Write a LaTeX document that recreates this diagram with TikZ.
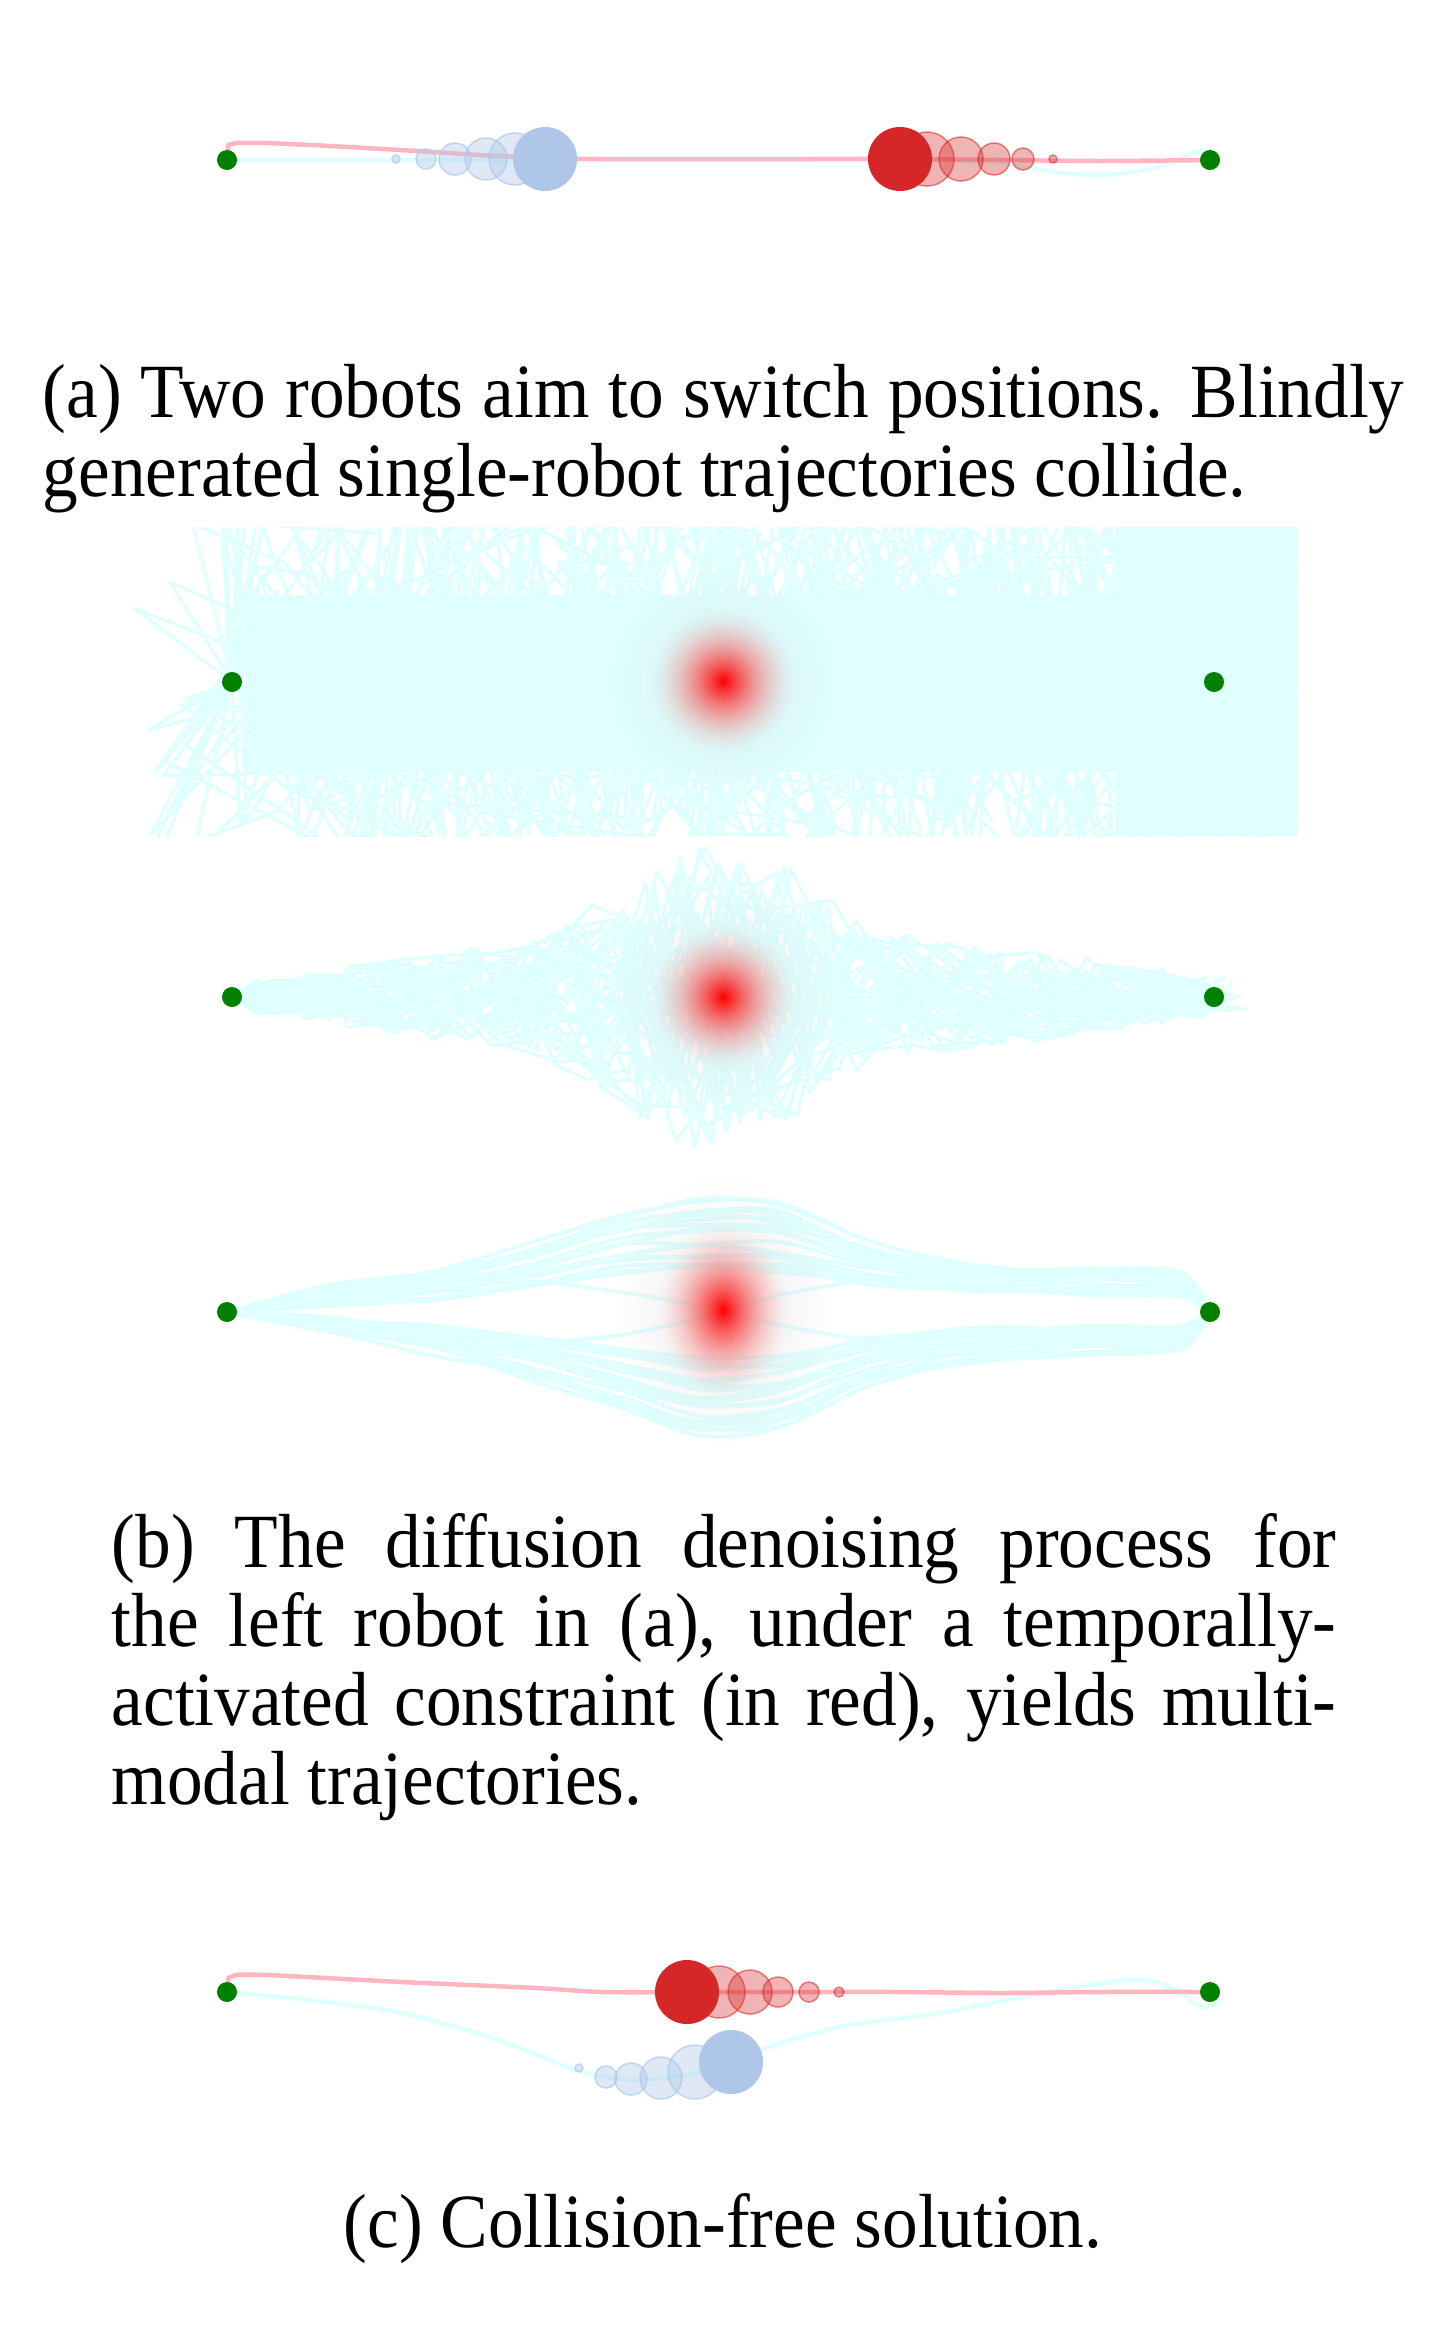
\documentclass[tikz,border=0pt]{standalone}
\usepackage{fontspec}
\setmainfont{Liberation Serif}[FakeStretch=0.93]
\usepackage{xcolor}
\usepackage{tikz}
\usetikzlibrary{fadings}
\definecolor{GoalGreen}{HTML}{008000}
\definecolor{RobotRed}{HTML}{D62728}
\definecolor{RobotBlue}{HTML}{AEC7E8}
\definecolor{TrailPink}{HTML}{FFB6C1}
\definecolor{TrailCyan}{HTML}{E0FFFF}
\tikzfading[name=blobfade, inner color=transparent!0, outer color=transparent!100]
% control abscissae and spread of the denoised trajectories
\def\ctrlx{{227,330,430,530,620,700,780,870,980,1090,1180,1210}}
\def\upprof{{0,25,45,75,108,122,118,78,52,48,42,0}}
\def\dnprof{{0,20,40,68,98,126,118,72,50,40,35,0}}

\begin{document}
\begin{tikzpicture}[x=0.01cm, y=-0.01cm,
          every node/.style={font=\fontsize{21.8pt}{22.5pt}\selectfont},
          goal/.style={circle, fill=GoalGreen, inner sep=0pt, minimum size=0.2cm},
          caption/.style={inner sep=0pt, align=justify},
          redpath/.style={TrailPink, line width=0.045cm, line join=round, line cap=round},
          bluepath/.style={TrailCyan, line width=0.045cm, line join=round, line cap=round},
          noisy/.style={TrailCyan, line width=0.034cm, line join=round},
          smoothtraj/.style={TrailCyan, line width=0.04cm},
          ghostred/.style={fill=RobotRed, draw=RobotRed, fill opacity=0.35, draw opacity=0.55, line width=0.015cm},
          ghostblue/.style={fill=RobotBlue, draw=RobotBlue, fill opacity=0.4, draw opacity=0.7, line width=0.015cm},
          halo/.style={inner color=gray!60, outer color=gray!40, path fading=blobfade, opacity=0.35},
          core/.style={inner color=red, outer color=red!25!white, path fading=blobfade}]
        \useasboundingbox (0,0) rectangle (1440,2348);
        \pgfmathsetseed{7}

        % (a) blind single-robot plans
        \draw[bluepath] plot[smooth] coordinates {(227,160) (400,160) (547,160) (750,160) (940,160)
          (1000,163) (1030,168) (1065,173) (1100,175) (1140,171) (1170,163) (1190,154) (1203,150) (1213,153)};
        \draw[redpath] plot[smooth] coordinates {(1210,160) (1100,161) (1000,160) (900,159) (800,159)
          (700,159) (600,159) (547,158) (480,155) (400,150) (330,146) (267,143) (236,143)}
          -- (228,145) -- (228,152);
        \foreach \cx/\r in {396/0.04, 426/0.10, 455/0.16, 486/0.21, 515/0.26}
          \filldraw[ghostblue] (\cx,159) circle[radius=\r cm];
        \fill[RobotBlue] (545,159) circle[radius=0.32cm];
        \foreach \cx/\r in {1053/0.04, 1023/0.11, 994/0.16, 961/0.22, 927/0.27}
          \filldraw[ghostred] (\cx,159) circle[radius=\r cm];
        \fill[RobotRed] (900,159) circle[radius=0.32cm];
        \node[goal] (startA) at (227,160) {};
        \node[goal] (goalA) at (1210,160) {};
        \node[caption, text width=13.61cm, anchor=base west] (capA) at (42,417)
        {(a) Two robots aim to switch positions. Blindly\linebreak
          generated single-robot trajectories collide.};

        % (b) denoising steps, noisiest first
        \begin{scope}
          \clip (0,527) rectangle (1298,836);
          \fill[TrailCyan] (245,595) rectangle (1298,772);
          \fill[TrailCyan] (1115,527) rectangle (1298,836);
          \foreach \k in {1,...,44}{
            \draw[noisy] (232,682) -- ({250+120*rand},{682+200*rand})
              \foreach \i in {2,...,23}{ -- ({232+\i*46+90*rand},{682+225*rand}) };
          }
        \end{scope}
        \shade[halo] (723,681) circle[radius=1.1cm];
        \shade[core] (723,681) circle[radius=0.7cm];
        \node[goal] (startB1) at (232,682) {};
        \node[goal] (goalB1) at (1214,682) {};

        \foreach \k in {1,...,45}{
          \draw[noisy] (232,997)
            \foreach \i in {1,...,23}{ -- ({232+\i*42+20*rand},
              {997+(10+55*sin(\i*7.34)+90*exp(-((\i*42-483)/110)*((\i*42-483)/110)))*rand}) }
            -- ({1214+40*rand},{997+20*rand});
        }
        \shade[halo] (723,997) circle[radius=1.1cm];
        \shade[core] (723,997) circle[radius=0.7cm];
        \node[goal] (startB2) at (232,997) {};
        \node[goal] (goalB2) at (1214,997) {};

        \foreach \k in {1,...,18}{
          \pgfmathsetmacro{\m}{0.3+0.7*rnd}
          \draw[smoothtraj] plot[smooth, variable=\t, samples at={0,...,11}]
            ({\ctrlx[\t]},{1312-\m*\upprof[\t]+(\t>0)*(\t<11)*5*rand});
        }
        \foreach \k in {1,...,18}{
          \pgfmathsetmacro{\m}{0.3+0.7*rnd}
          \draw[smoothtraj] plot[smooth, variable=\t, samples at={0,...,11}]
            ({\ctrlx[\t]},{1312+\m*\dnprof[\t]+(\t>0)*(\t<11)*5*rand});
        }
        \draw[smoothtraj] plot[smooth] coordinates {(227,1312) (330,1300) (430,1290) (530,1282)
          (620,1292) (700,1306) (780,1325) (870,1340) (980,1345) (1090,1345) (1180,1340) (1210,1312)};
        \draw[smoothtraj] plot[smooth] coordinates {(227,1312) (330,1318) (430,1330) (530,1342)
          (620,1335) (700,1318) (780,1295) (870,1280) (980,1275) (1090,1272) (1180,1276) (1210,1312)};
        \shade[halo] (723,1310) ellipse[x radius=1.1cm, y radius=1.35cm];
        \shade[core] (723,1310) ellipse[x radius=0.65cm, y radius=0.85cm];
        \node[goal] (startB3) at (227,1312) {};
        \node[goal] (goalB3) at (1210,1312) {};
        \node[caption, text width=12.24cm, anchor=base west] (capB) at (111,1567)
        {\tolerance=9999\hbadness=10000
          (b) The diffusion denoising process for\linebreak
          the left robot in (a), under a temporally-\linebreak
          activated constraint (in red), yields multi-\linebreak
          modal trajectories.};

        % (c) joint solution
        \draw[bluepath] plot[smooth] coordinates {(227,1992) (240,1993) (335,2003) (402,2013) (483,2035)
          (530,2052) (567,2067) (600,2076) (640,2080) (690,2074) (731,2062) (759,2050) (839,2027)
          (940,2013) (1041,1993) (1075,1987) (1129,1980) (1156,1982) (1182,1993) (1196,2005)
          (1209,2007) (1219,2002)};
        \draw[redpath] plot[smooth] coordinates {(1210,1992) (1100,1992) (1000,1993) (900,1992)
          (800,1992) (700,1992) (604,1992) (536,1988) (402,1982) (267,1975) (236,1975)}
          -- (228,1978) -- (228,1986);
        \foreach \cx/\r/\cy in {579/0.04/2068, 606/0.11/2077, 631/0.16/2079, 661/0.21/2078, 695/0.27/2072}
          \filldraw[ghostblue] (\cx,\cy) circle[radius=\r cm];
        \fill[RobotBlue] (731,2062) circle[radius=0.32cm];
        \foreach \cx/\r in {839/0.05, 809/0.10, 778/0.15, 750/0.22, 719/0.26}
          \filldraw[ghostred] (\cx,1992) circle[radius=\r cm];
        \fill[RobotRed] (687,1992) circle[radius=0.32cm];
        \node[goal] (startC) at (227,1992) {};
        \node[goal] (goalC) at (1210,1992) {};
        \node[caption, anchor=base] (capC) at (723,2247) {(c) Collision-free solution.};
      \end{tikzpicture}
\end{document}
